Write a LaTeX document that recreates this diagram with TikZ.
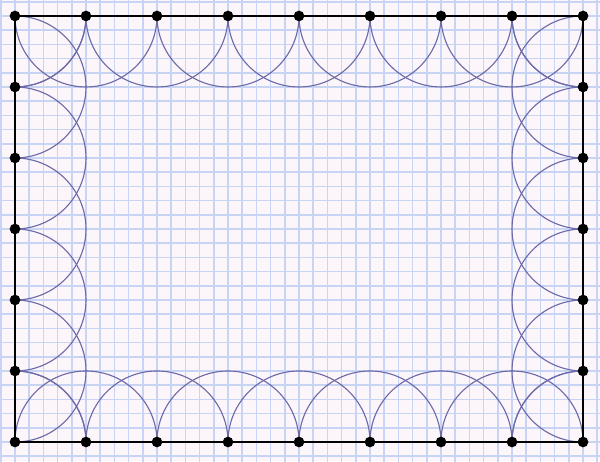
\documentclass[tikz,border=0pt]{standalone}
\usepackage{tikz}
\definecolor{paper}{RGB}{252,246,250}
\definecolor{gridblue}{RGB}{200,212,244}
\definecolor{arcblue}{RGB}{108,106,168}
\tikzset{
  arcline/.style={arcblue,line width=0.45pt},
  dot/.style={circle,fill=black,inner sep=0pt,minimum size=0.15cm}
}

\begin{document}
\begin{tikzpicture}
\useasboundingbox (-0.211,-0.268) rectangle (8.239,6.225);
\fill [paper] (-0.211,-0.268) rectangle (8.239,6.225);
\draw [gridblue,line width=0.6pt,step=0.2] (-0.4,-0.4) grid (8.4,6.4);

% half circles round every point of the frame
\begin{scope}
\clip (0,0) rectangle (8,6);
\foreach \i in {0,...,8} {
  \draw [arcline] (\i-1,6) arc (180:360:1);
  \draw [arcline] (\i+1,0) arc (0:180:1);
}
\foreach \j in {0,...,6} {
  \draw [arcline] (0,\j+1) arc (90:-90:1);
  \draw [arcline] (8,\j-1) arc (270:90:1);
}
\end{scope}

\draw [line width=0.9pt] (0,0) rectangle (8,6);

\foreach \i in {0,...,8} {
  \node [dot] (t\i) at (\i,6) {};
  \node [dot] (b\i) at (\i,0) {};
}
\foreach \j in {1,...,5} {
  \node [dot] (l\j) at (0,\j) {};
  \node [dot] (r\j) at (8,\j) {};
}
\end{tikzpicture}
\end{document}
